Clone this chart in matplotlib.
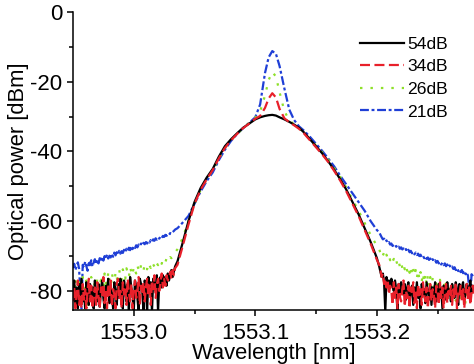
import numpy as np
import matplotlib
matplotlib.use("Agg")
import matplotlib.pyplot as plt

plt.rcParams['font.family'] = ['Liberation Sans', 'DejaVu Sans']
plt.rcParams['axes.unicode_minus'] = False

# wavelength samples of the central (smooth) part, shared by all traces
wl_mid = [1553.036, 1553.040, 1553.045, 1553.050, 1553.055, 1553.060, 1553.065, 1553.070,
          1553.075, 1553.080, 1553.085, 1553.090, 1553.095, 1553.100, 1553.104, 1553.108,
          1553.111, 1553.114, 1553.117, 1553.120, 1553.124, 1553.128, 1553.132, 1553.136,
          1553.140, 1553.145, 1553.150, 1553.155, 1553.160, 1553.165, 1553.170, 1553.175,
          1553.180, 1553.185, 1553.190, 1553.195, 1553.200]

# 54dB (black)
black_left = [-81, -77, -84, -79, -85, -78, -82, -76.5, -83, -80, -85, -77.5, -81, -84, -78, -82.5, -79, -85, -77, -80.5,
              -83, -78, -84.5, -79.5, -77, -82, -85, -78.5, -80, -76.5, -83.5, -79, -81, -85, -77.5, -80, -84, -78, -82, -76.5,
              -80, -85, -77, -79.5, -83, -78, -86, -76, -79, -81, -86, -77, -78.5, -82, -86, -76.5, -78, -80, -86, -77,
              -78.5, -86, -76, -79, -77.5, -86, -76.5, -78, -80, -75.5, -86, -77, -76, -79, -75.5, -77.5, -76, -78.5, -75, -77,
              -75.5, -74, -76, -74.5, -73]
black_mid = [-71.5, -66.5, -60.0, -54.5, -50.5, -47.5, -45.0, -41.5, -38.5, -36.5, -34.8, -33.2,
             -32.0, -30.8, -30.2, -29.8, -29.6, -29.5, -29.7, -30.2, -30.8, -31.5, -32.3, -33.2,
             -34.5, -36.5, -38.5, -40.5, -42.8, -45.3, -48.0, -51.0, -54.5, -58.0, -62.0, -66.0, -70.5]
black_right = [-73, -74.5, -76, -75, -77.5, -86, -76, -78, -77, -79, -76.5, -78.5, -80, -77, -79.5, -86, -78, -80.5, -77.5, -79,
               -81, -78, -82.5, -79, -77.5, -83, -80, -78.5, -84, -79, -81.5, -77.5, -82, -80, -85, -78, -81, -79.5, -83.5, -77.5,
               -80, -82.5, -78.5, -84, -79, -81, -77.5, -83, -80.5, -78, -82, -79, -85, -78.5, -80, -82.5, -77.5, -81, -79.5, -83,
               -78, -80.5, -82, -77.5, -79.5, -84, -78, -81, -79, -77.5, -82.5, -80, -78, -81.5, -79, -77, -80.5, -78.5, -80]

# 34dB (red)
red_left = [-83, -79, -85, -80.5, -77, -84, -81, -85, -78, -82.5, -79.5, -85, -80, -76.5, -83, -78.5, -85, -81, -79, -84,
            -77.5, -82, -85, -79, -81.5, -76, -83.5, -80, -85, -78, -82, -77, -84.5, -79.5, -81, -85, -78, -76.5, -82.5, -80,
            -85, -77.5, -81, -79, -84, -76.5, -80.5, -83, -78, -85, -79.5, -77, -82, -80, -76, -84, -78.5, -81, -77.5, -83,
            -79, -76.5, -81.5, -78, -84, -77, -79.5, -75.5, -82, -78, -76.5, -80, -77.5, -75, -79, -76.5, -78.5, -75.5, -77, -76,
            -74.5, -76.5, -74, -75.5, -73.5]
red_mid = [-72.5, -67.5, -61.0, -55.0, -51.0, -48.0, -45.3, -42.0, -39.0, -36.8, -35.0, -33.3,
           -32.0, -30.6, -29.8, -27.5, -24.8, -23.3, -24.5, -27.8, -30.5, -31.6, -32.5, -33.5,
           -34.8, -36.8, -38.8, -40.8, -43.0, -45.6, -48.4, -51.5, -55.0, -58.5, -62.5, -66.5, -71.0]
red_right = [-72.5, -74, -76, -75, -78, -76.5, -79, -77, -81, -78.5, -80, -84, -77.5, -82, -79, -85, -78, -81.5, -83, -79.5,
             -77, -84.5, -80, -82, -78.5, -85, -79, -81, -77.5, -83.5, -80, -85, -78, -82, -79.5, -84, -77.5, -81, -83, -79,
             -85, -80.5, -78, -83, -79.5, -81.5, -85, -78.5, -80, -84, -77.5, -82, -79, -85, -80.5, -78, -83.5, -80, -81.5, -78.5,
             -84, -79.5, -82, -77.5, -85, -80, -81, -78.5, -83, -79.5, -85, -80, -78, -82.5, -79, -84, -80.5, -78.5, -81]

# 26dB (green)
green_left = [-78, -83, -76.5, -81, -85, -77.5, -80, -84, -76, -79.5, -82.5, -77, -85, -78.5, -80.5, -76, -83, -79, -77.5, -81.5,
              -76, -79, -82, -75.5, -78, -80.5, -75, -77.5, -79.5, -74.5, -77, -80, -75, -76.5, -78.5, -74.5, -76, -78, -74, -75.5,
              -77, -73.8, -75.2, -76.5, -73.5, -74.8, -76, -73.2, -74.5, -75.5, -73, -74.2, -75, -72.8, -73.8, -74.6, -72.5, -73.4, -74.2, -72.3,
              -73, -73.8, -72, -72.7, -73.4, -71.8, -72.4, -73, -71.5, -72.1, -72.6, -71.2, -71.8, -72.2, -70.9, -71.4, -71.8, -70.6, -71.0, -71.3,
              -70.3, -70.6, -70.0, -69.6, -69.0]
green_mid = [-68.0, -65.0, -60.0, -55.0, -51.0, -48.0, -45.3, -42.0, -39.0, -36.8, -35.0, -33.3,
             -31.8, -30.3, -28.5, -24.0, -19.5, -17.2, -18.5, -23.0, -28.5, -31.0, -32.3, -33.3,
             -34.6, -36.5, -38.3, -40.2, -42.3, -44.8, -47.4, -50.4, -53.8, -57.0, -60.5, -64.0, -67.0]
green_right = [-68.0, -69.2, -68.6, -69.8, -69.0, -70.4, -69.6, -70.8, -70.0, -71.2, -70.4, -71.6, -70.8, -72.0, -71.2, -72.6, -71.5, -73.0, -71.8, -73.4,
               -72.2, -73.8, -72.6, -74.2, -73.0, -74.8, -73.2, -75.2, -73.6, -75.6, -74.0, -76.2, -74.2, -76.6, -74.6, -77.2, -75.0, -77.6, -75.2, -78.2,
               -75.6, -78.6, -76.0, -79.2, -76.2, -77.8, -79.8, -76.6, -78.4, -80.4, -76.8, -79.0, -81.0, -77.2, -79.6, -77.8, -81.6, -78.0, -80.2, -82.4,
               -77.6, -80.6, -78.2, -82.8, -78.4, -81.0, -79.0, -83.2, -78.6, -81.4, -79.2, -83.6, -78.8, -81.8, -79.6, -82.2, -80.2, -78.8, -81.0]

# 21dB (blue)
blue_left = [-73.5, -72.2, -74.0, -72.8, -71.8, -73.6, -80.0, -85.0, -72.5, -73.2, -71.6, -72.9, -74.2, -71.5, -72.6, -71.2, -73.0, -71.8, -70.9, -72.3,
             -71.0, -72.1, -70.6, -71.5, -70.2, -71.3, -70.0, -70.8, -69.6, -70.7, -69.9, -70.4, -69.3, -70.2, -69.0, -69.8, -68.9, -69.6, -68.5, -69.3,
             -68.6, -69.1, -68.2, -68.8, -67.9, -68.5, -67.6, -68.3, -67.3, -68.0, -67.2, -67.7, -66.9, -67.5, -66.7, -67.1, -66.4, -66.9, -66.2, -66.6,
             -66.0, -66.4, -65.7, -66.1, -65.4, -65.9, -65.2, -65.6, -64.9, -65.3, -64.7, -65.0, -64.4, -64.8, -64.2, -64.5, -63.9, -64.2, -63.7, -63.9,
             -63.4, -63.6, -63.1, -62.8, -62.4]
blue_mid = [-62.0, -60.5, -58.5, -55.0, -51.5, -48.5, -46.0, -42.5, -39.5, -37.0, -35.0, -33.3,
            -31.8, -30.2, -26.5, -17.5, -13.0, -11.2, -12.0, -15.5, -22.0, -28.0, -31.0, -32.8,
            -34.0, -35.8, -37.8, -39.8, -42.0, -44.3, -47.0, -49.5, -52.0, -54.5, -57.0, -60.0, -62.5]
blue_right = [-63.2, -63.9, -64.6, -65.2, -65.0, -65.8, -65.5, -66.3, -66.0, -66.7, -66.4, -67.1, -66.8, -67.4, -67.1, -67.7, -67.3, -67.9, -67.5, -68.1,
              -67.8, -68.4, -68.0, -68.7, -68.2, -68.9, -68.5, -69.2, -68.8, -69.5, -69.0, -69.7, -69.3, -70.0, -69.6, -70.3, -69.9, -70.6, -70.1, -70.8,
              -70.4, -71.1, -70.7, -71.4, -70.9, -71.6, -71.2, -71.9, -71.4, -72.1, -71.7, -72.4, -71.9, -72.6, -72.1, -72.9, -72.4, -73.2, -72.7, -73.4,
              -73.0, -73.7, -73.2, -74.0, -73.5, -74.3, -73.8, -74.6, -74.0, -74.9, -74.3, -75.2, -74.6, -75.6, -79.0, -81.0, -75.2, -76.0, -75.5]

labels = ["54dB", "34dB", "26dB", "21dB"]


def trace(left, mid, right):
    wl = np.concatenate([np.linspace(1552.950, 1553.034, len(left)), wl_mid,
                         np.linspace(1553.202, 1553.280, len(right))])
    return wl, np.concatenate([left, mid, right])


fig = plt.figure(figsize=(4.74, 3.64), dpi=100)
ax = fig.add_axes([0.154, 0.148, 0.846, 0.819])

x, y = trace(blue_left, blue_mid, blue_right)
l4, = ax.plot(x, y, color="#1f3fd6", lw=1.6, dashes=(4, 1.2, 1.3, 1.2), label=labels[3])
x, y = trace(green_left, green_mid, green_right)
l3, = ax.plot(x, y, color="#8ee02a", lw=1.6, dashes=(1.1, 3.6), label=labels[2])
x, y = trace(black_left, black_mid, black_right)
l1, = ax.plot(x, y, color="black", lw=1.6, label=labels[0])
x, y = trace(red_left, red_mid, red_right)
l2, = ax.plot(x, y, color="#e8202a", lw=1.6, dashes=(4.5, 2.0), label=labels[1])

ax.set_xlim(1552.95, 1553.28)
ax.set_ylim(-85.5, 0)
ax.set_xticks([1553.0, 1553.1, 1553.2])
ax.set_xticklabels(["1553.0", "1553.1", "1553.2"])
ax.set_xticks([1553.05, 1553.15, 1553.25], minor=True)
ax.set_yticks([0, -20, -40, -60, -80])
ax.set_yticks([-10, -30, -50, -70], minor=True)

for s in ["top", "right"]:
    ax.spines[s].set_visible(False)
for s in ["left", "bottom"]:
    ax.spines[s].set_linewidth(1.1)
ax.tick_params(which="major", direction="out", length=4.5, width=1.1, labelsize=16, pad=3)
ax.tick_params(which="minor", direction="out", length=3, width=1.1)
ax.tick_params(axis="x", which="major", pad=5)

ax.set_xlabel("Wavelength [nm]", fontsize=15.8, labelpad=-1)
ax.set_ylabel("Optical power [dBm]", fontsize=15.8, labelpad=1)

ax.legend([l1, l2, l3, l4], labels, loc="upper right", bbox_to_anchor=(0.935, 0.918),
          frameon=False, fontsize=12.6, handlelength=2.5, handletextpad=0.2,
          labelspacing=0.42, borderpad=0, borderaxespad=0)

fig.savefig("out.png", dpi=100)
